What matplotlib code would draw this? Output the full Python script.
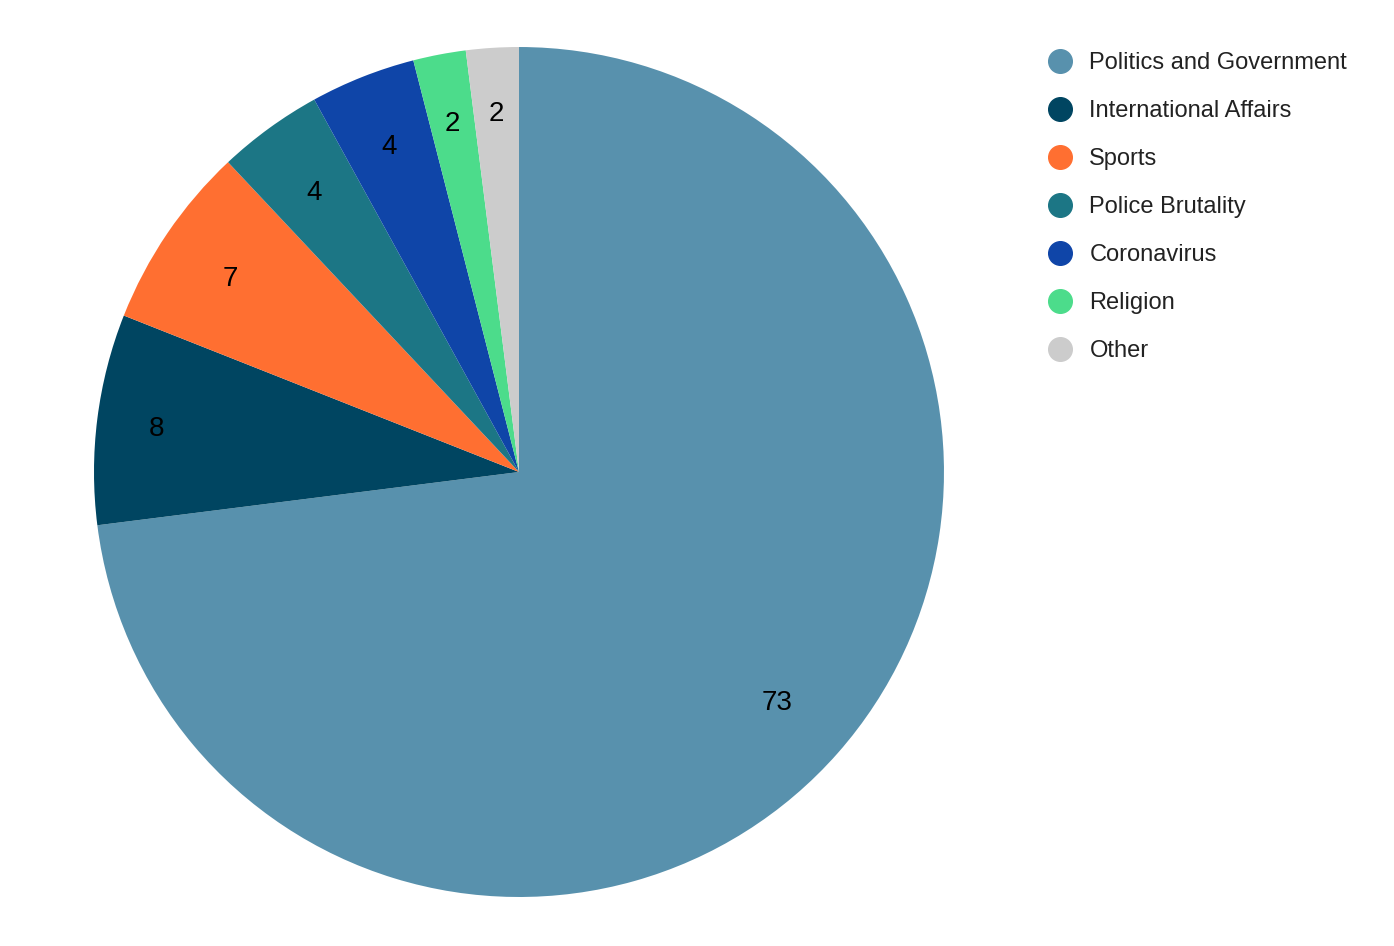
import numpy as np
import matplotlib.pyplot as plt
from matplotlib.lines import Line2D

plt.rcParams['font.family'] = ['Liberation Sans', 'DejaVu Sans']

categories = ['Politics and Government', 'International Affairs', 'Sports',
              'Police Brutality', 'Coronavirus', 'Religion', 'Other']
values = [73, 8, 7, 4, 4, 2, 2]
colors = ['#5891ad', '#004561', '#ff6f31', '#1c7685', '#0f45a8', '#4cdc8b', '#cccccc']
label_dist = [0.81, 0.86, 0.82, 0.82, 0.83, 0.84, 0.85]

fig = plt.figure(figsize=(13.94, 9.46), dpi=100)
ax = fig.add_axes([0.0674, 0.0518, 0.6098, 0.8985])

wedges, _ = ax.pie(values, colors=colors, startangle=90, counterclock=False,
                   wedgeprops={'linewidth': 0})
for w, v, d in zip(wedges, values, label_dist):
    ang = np.deg2rad((w.theta1 + w.theta2) / 2)
    ax.text(d * np.cos(ang), d * np.sin(ang), str(v), ha='center',
            va='center_baseline', fontsize=20, color='black')
ax.set_xlim(-1, 1)
ax.set_ylim(-1, 1)
ax.set_aspect('equal')

handles = [Line2D([0], [0], marker='o', linestyle='none', markersize=17,
                  markerfacecolor=c, markeredgecolor=c) for c in colors]
leg = fig.legend(handles, categories, loc='upper left', bbox_to_anchor=(0.7454, 0.955),
                 frameon=False, fontsize=17, labelspacing=1.1, handletextpad=0.73,
                 handlelength=1.0, borderaxespad=0)
for t in leg.get_texts():
    t.set_color('#222222')

fig.savefig('out.png', dpi=100)
